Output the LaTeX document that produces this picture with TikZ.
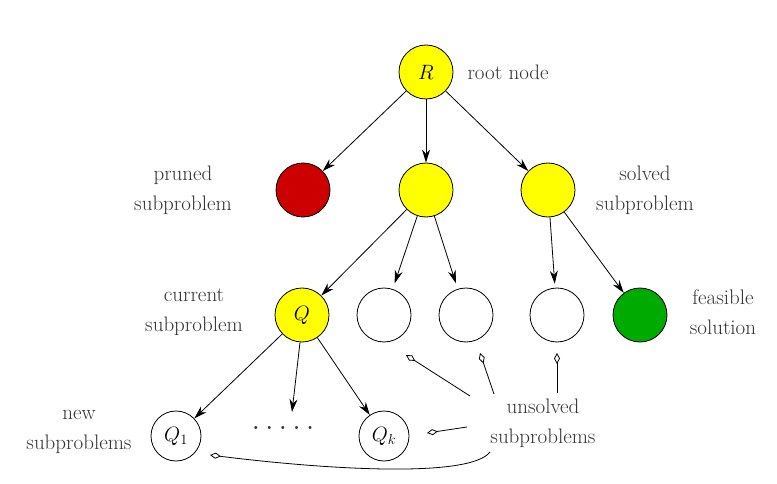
\documentclass[tikz,border=0pt]{standalone}
\usetikzlibrary{arrows.meta}
\begin{document}
\begin{tikzpicture}[x=1pt,y=-1pt,
 every node/.style={font=\fontsize{21}{30}\selectfont,text=black!80},
 big/.style={circle,draw,thick,minimum size=54pt,inner sep=0pt,text=black},
 small/.style={circle,draw,thick,minimum size=50pt,inner sep=0pt,text=black},
 lab/.style={align=center},
 ar/.style={-{Stealth[length=13pt,width=8pt]},thick},
 un/.style={-{Diamond[open,length=11pt,width=6pt]},thick}]
\useasboundingbox (0,0) rectangle (777,484);
\definecolor{yel}{RGB}{255,255,0}
\definecolor{rd}{RGB}{204,0,0}
\definecolor{gr}{RGB}{0,170,0}
\node[big,fill=yel] (R) at (426,72) {$R$};
\node[big,fill=rd] (P) at (303,190) {};
\node[big,fill=yel] (M) at (426,190) {};
\node[big,fill=yel] (S) at (548,190) {};
\node[big,fill=yel] (Q) at (302,315) {$Q$};
\node[big] (W1) at (384,315) {};
\node[big] (W2) at (466,315) {};
\node[big] (W3) at (557,315) {};
\node[big,fill=gr] (F) at (640,315) {};
\node[small] (Q1) at (176,436) {$Q_1$};
\node[small] (Qk) at (384,436) {$Q_k$};
\node (dots) at (283,428) {\textbf{.\,\,.\,\,.\,\,.\,\,.}};
\coordinate (dt) at (292,412);
\node[anchor=west] (rl) at (464,72) {root node};
\node[lab] (pl) at (183,190) {pruned\\subproblem};
\node[lab] (sl) at (645,190) {solved\\subproblem};
\node[lab] (cl) at (194,312) {current\\subproblem};
\node[lab] (fl) at (723,312) {feasible\\solution};
\node[lab] (nl) at (79,432) {new\\subproblems};
\node[lab] (ul) at (543,423) {unsolved\\subproblems};
\coordinate (u1) at (470,396);
\coordinate (u2) at (494,394);
\coordinate (u3) at (557,393);
\coordinate (u4) at (467,427);
\coordinate (u5) at (490,452);
\draw[ar] (R) -- (P);
\draw[ar] (R) -- (M);
\draw[ar] (R) -- (S);
\draw[ar] (M) -- (Q);
\draw[ar,shorten >=6pt] (M) -- (W1);
\draw[ar,shorten >=6pt] (M) -- (W2);
\draw[ar,shorten >=4pt] (S) -- (W3);
\draw[ar] (S) -- (F);
\draw[ar] (Q) -- (Q1);
\draw[ar] (Q.south) ++(-2,0) -- (dt);
\draw[ar] (Q) -- (Qk);
\draw[un] (u1) -- (406,355);
\draw[un] (u2) -- (480,353);
\draw[un] (u3) -- (557,353);
\draw[un] (u4) -- (427,433);
\draw[un] (u5) .. controls (470,478) and (330,470) .. (210,455);
\end{tikzpicture}
\end{document}
